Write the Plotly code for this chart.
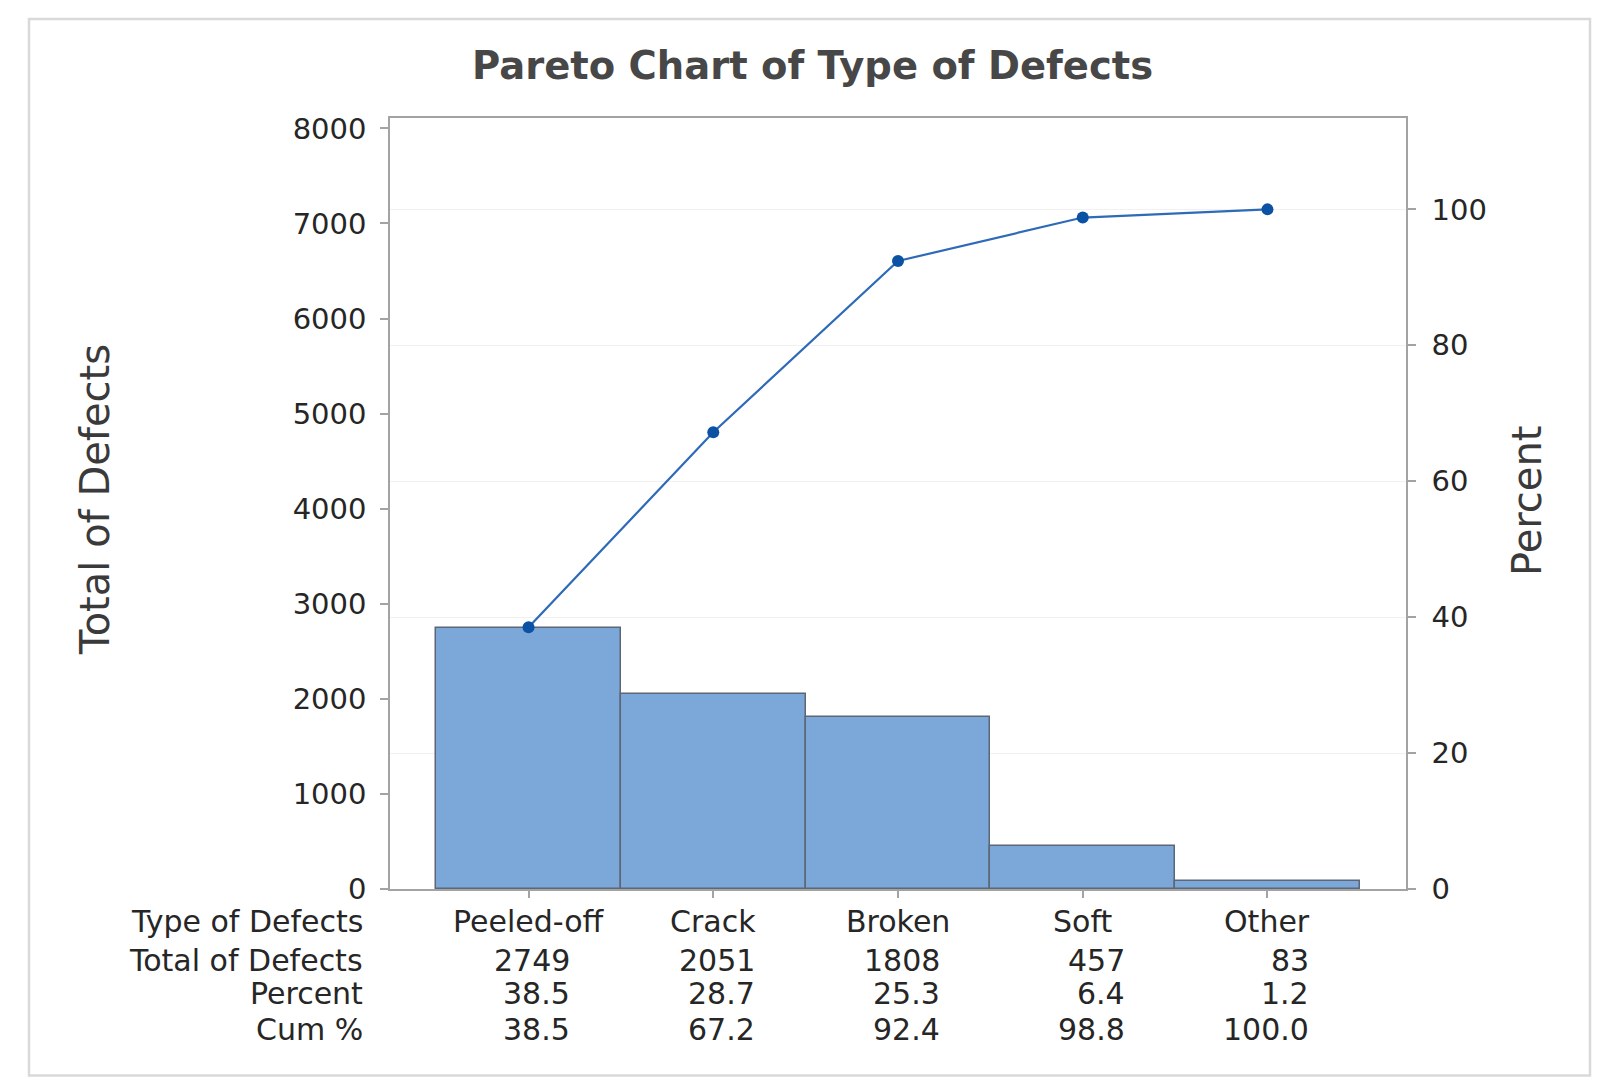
import plotly.graph_objects as go

# ---- data ----
categories = ["Peeled-off", "Crack", "Broken", "Soft", "Other"]
counts = [2749, 2051, 1808, 457, 83]
percent = [38.5, 28.7, 25.3, 6.4, 1.2]
cum_pct = [38.5, 67.2, 92.4, 98.8, 100.0]
row_labels = ["Type of Defects", "Total of Defects", "Percent", "Cum %"]
left_ticks = [0, 1000, 2000, 3000, 4000, 5000, 6000, 7000, 8000]
right_ticks = [0, 20, 40, 60, 80, 100]

# ---- geometry (reference-page pixels) ----
OFF = 8                     # default body margin of the html page
W, H = 1618 - 2 * OFF, 1085 - 2 * OFF
PL, PR, PT, PB = 390, 1406, 118, 889
pw, ph = PR - PL, PB - PT


def px_x(px):
    return (px - PL) / pw


def px_y(py):
    return (PB - py) / ph


Y1MAX = 8109
total = sum(counts)
Y2MAX = Y1MAX / total * 100

FONT = "DejaVu Sans"
TXT = "#262626"
AXC = "#a3a3a3"

fig = go.Figure()
fig.add_trace(go.Bar(
    x=categories, y=counts,
    marker=dict(color="#7ba7d9", line=dict(color="#5c6675", width=1.5)),
    yaxis="y", showlegend=False, hoverinfo="skip"))
fig.add_trace(go.Scatter(
    x=categories, y=cum_pct, yaxis="y2", mode="lines+markers",
    line=dict(color="#2d6ab8", width=2.2), marker=dict(color="#0b52a5", size=12),
    showlegend=False, hoverinfo="skip"))

annotations = []
annotations.append(dict(text="Pareto Chart of Type of Defects", xref="paper", yref="paper",
                        x=px_x(812), y=px_y(65), xanchor="center", yanchor="middle", showarrow=False,
                        font=dict(family=FONT, size=38.5, color="#474747", weight="bold")))
annotations.append(dict(text="Total of Defects", xref="paper", yref="paper", textangle=-90,
                        x=px_x(95), y=px_y(500), xanchor="center", yanchor="middle", showarrow=False,
                        font=dict(family=FONT, size=40, color="#3a3a3a")))
annotations.append(dict(text="Percent", xref="paper", yref="paper", textangle=-90,
                        x=px_x(1527), y=px_y(501), xanchor="center", yanchor="middle", showarrow=False,
                        font=dict(family=FONT, size=40, color="#3a3a3a")))

row_y = [921, 960, 993, 1029]
tfont = dict(family=FONT, size=30, color=TXT)
for lab, ry in zip(row_labels, row_y):
    annotations.append(dict(text=lab, xref="paper", yref="paper", x=px_x(365), y=px_y(ry),
                            xanchor="right", yanchor="middle", showarrow=False, font=tfont))
rows = [
    [str(c) for c in counts],
    [f"{p:.1f}" for p in percent],
    [f"{c:.1f}" for c in cum_pct],
]
for i, cat in enumerate(categories):
    annotations.append(dict(text=cat, xref="x", yref="paper", x=i, y=px_y(row_y[0]),
                            xanchor="center", yanchor="middle", showarrow=False, font=tfont))
    for r, vals in enumerate(rows):
        annotations.append(dict(text=vals[i], xref="x", yref="paper", x=i + 0.237,
                                y=px_y(row_y[r + 1]), xanchor="right", yanchor="middle",
                                showarrow=False, font=tfont))

shapes = [dict(type="rect", xref="paper", yref="paper",
               x0=px_x(29), x1=px_x(1590), y0=px_y(1075.5), y1=px_y(19),
               line=dict(color="#d9d9d9", width=2.5), fillcolor="rgba(0,0,0,0)", layer="below")]

fig.update_layout(
    width=W, height=H,
    margin=dict(l=PL - OFF, r=W - (PR - OFF), t=PT - OFF, b=H - (PB - OFF), pad=0),
    paper_bgcolor="white", plot_bgcolor="white",
    bargap=0,
    font=dict(family=FONT, size=29, color=TXT),
    annotations=annotations, shapes=shapes,
    xaxis=dict(type="category", range=[-0.75, 4.75], showline=True, linecolor=AXC, linewidth=1.5,
               mirror=True, ticks="outside", ticklen=7, tickcolor=AXC, tickwidth=1.5,
               showticklabels=False, showgrid=False, zeroline=False, fixedrange=True),
    yaxis=dict(range=[0, Y1MAX], tickvals=left_ticks, showline=True, linecolor=AXC, linewidth=1.5,
               ticks="outside", ticklen=8, tickcolor=AXC, tickwidth=1.5, showgrid=False,
               zeroline=False, tickfont=dict(family=FONT, size=29, color=TXT), ticklabelstandoff=8),
    yaxis2=dict(range=[0, Y2MAX], tickvals=right_ticks, overlaying="y", side="right",
                showline=True, linecolor=AXC, linewidth=1.5, ticks="outside", ticklen=8,
                tickcolor=AXC, tickwidth=1.5, showgrid=True, gridcolor="#f1f1f1", gridwidth=1,
                zeroline=False, tickfont=dict(family=FONT, size=29, color=TXT),
                ticklabelstandoff=10),
)

fig.write_html("out.html")
